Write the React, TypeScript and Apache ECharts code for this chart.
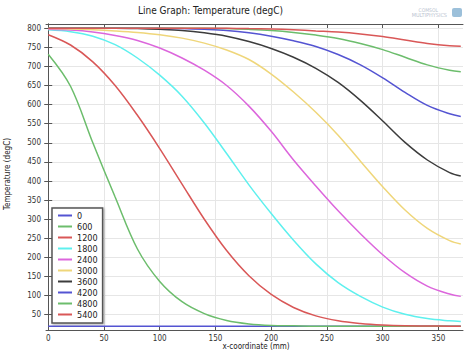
import React, { useEffect, useRef } from "react";
import * as echarts from "echarts";

const xs = [0, 20, 40, 60, 80, 100, 120, 140, 160, 180, 200, 220, 240, 260, 280, 300, 320, 340, 360, 370];
const seriesNames = ["0", "600", "1200", "1800", "2400", "3000", "3600", "4200", "4800", "5400"];
const t0 = [20, 20, 20, 20, 20, 20, 20, 20, 20, 20, 20, 20, 20, 20, 20, 20, 20, 20, 20, 20];
const t600 = [732, 648, 500, 358, 222, 137, 84, 53, 35, 26, 22, 21, 20, 20, 20, 20, 20, 20, 20, 20];
const t1200 = [783, 756, 712, 650, 572, 485, 392, 300, 218, 152, 103, 69, 47, 34, 27, 23, 21, 20.5, 20, 20];
const t1800 = [796, 791, 779, 757, 722, 677, 622, 552, 472, 390, 315, 245, 183, 134, 98, 70, 51, 40, 34, 32];
const t2400 = [797, 795, 790, 781, 768, 748, 722, 690, 650, 596, 530, 455, 387, 322, 262, 207, 160, 125, 104, 98];
const t3000 = [799, 798, 796, 793, 789, 783, 774, 761, 743, 718, 680, 633, 580, 520, 452, 385, 324, 276, 244, 235];
const t3600 = [800, 800, 800, 800, 799, 797, 794, 788, 779, 765, 747, 724, 695, 658, 611, 557, 501, 455, 422, 413];
const t4200 = [800, 800, 800, 800, 800, 800, 799, 797, 794, 788, 779, 767, 752, 731, 704, 670, 632, 598, 576, 569];
const t4800 = [800, 800, 800, 800, 800, 800, 800, 800, 799, 797, 794, 789, 782, 773, 760, 744, 724, 704, 690, 686];
const t5400 = [800, 800, 800, 800, 800, 800, 800, 800, 800, 799, 798, 796, 793, 790, 785, 778, 769, 760, 754, 753];
const seriesValues = [t0, t600, t1200, t1800, t2400, t3000, t3600, t4200, t4800, t5400];
const colors = ["#5454d2", "#6cbd6c", "#d95757", "#5ef0ee", "#dc66dc", "#efd67a", "#3c3c3c", "#5454d2", "#6cbd6c", "#d95757"];
const xTicks = [0, 50, 100, 150, 200, 250, 300, 350];
const yTicks = [50, 100, 150, 200, 250, 300, 350, 400, 450, 500, 550, 600, 650, 700, 750, 800];

const FONT = "'DejaVu Sans Condensed', 'Liberation Sans', sans-serif";

export default function App() {
  const ref = useRef<HTMLDivElement>(null);
  useEffect(() => {
    if (!ref.current) return;
    const chart = echarts.init(ref.current, null, { renderer: "svg" });
    const axisLine = { show: true, lineStyle: { color: "#555", width: 1 } };
    const tick = (vals: number[]) => ({ show: true, inside: true, length: 4, lineStyle: { color: "#555" }, customValues: vals });
    chart.setOption({
      animation: false,
      backgroundColor: "#fff",
      textStyle: { fontFamily: FONT },
      grid: { left: 46, right: 11, top: 24, bottom: 25, containLabel: false },
      xAxis: [
        {
          type: "value", min: -2, max: 372, position: "bottom",
          axisLine, axisTick: tick(xTicks),
          axisLabel: { customValues: xTicks, fontSize: 8, color: "#333", margin: 4, fontFamily: FONT },
          splitLine: { show: true, lineStyle: { color: "#e6e6e6", width: 1 } },
        },
        {
          type: "value", min: -2, max: 372, position: "top",
          axisLine, axisTick: tick(xTicks), axisLabel: { show: false }, splitLine: { show: false },
        },
      ],
      yAxis: [
        {
          type: "value", min: 10, max: 811, position: "left",
          axisLine, axisTick: tick(yTicks),
          axisLabel: { customValues: yTicks, fontSize: 8, color: "#333", margin: 5, fontFamily: FONT },
          splitLine: { show: true, lineStyle: { color: "#e6e6e6", width: 1 } },
        },
        {
          type: "value", min: 10, max: 811, position: "right",
          axisLine, axisTick: tick(yTicks), axisLabel: { show: false }, splitLine: { show: false },
        },
      ],
      legend: {
        data: seriesNames,
        orient: "vertical",
        left: 52,
        top: 208,
        icon: "rect",
        itemWidth: 14,
        itemHeight: 2,
        itemGap: 0,
        padding: [2, 5, 3, 6],
        backgroundColor: "#fff",
        borderColor: "#555",
        borderWidth: 1.5,
        shadowColor: "rgba(0,0,0,0.3)",
        shadowBlur: 2,
        shadowOffsetX: 1,
        shadowOffsetY: 1,
        textStyle: { fontSize: 9, lineHeight: 11, color: "#222", fontFamily: FONT },
      },
      series: seriesNames.map((name, i) => ({
        name,
        type: "line",
        data: xs.map((x, j) => [x, seriesValues[i][j]]),
        smooth: 0.35,
        showSymbol: false,
        symbol: "none",
        color: colors[i],
        lineStyle: { color: colors[i], width: 1.5 },
      })),
      graphic: [
        { type: "text", left: 138, top: 5, style: { text: "Line Graph: Temperature (degC)", fontSize: 10, fontFamily: FONT, fill: "#222" } },
        { type: "text", x: 7, y: 174, rotation: Math.PI / 2, style: { text: "Temperature (degC)", fontSize: 8, fontFamily: FONT, fill: "#222", align: "center", verticalAlign: "middle" } },
        { type: "text", x: 256, y: 346, style: { text: "x-coordinate (mm)", fontSize: 8, fontFamily: FONT, fill: "#222", align: "center", verticalAlign: "middle" } },
        { type: "text", x: 438, y: 10, style: { text: "COMSOL", fontSize: 5, fontFamily: FONT, fill: "#b9c3cf", align: "right", verticalAlign: "middle" } },
        { type: "text", x: 447, y: 15, style: { text: "MULTIPHYSICS", fontSize: 5.5, fontFamily: FONT, fill: "#b9c3cf", align: "right", verticalAlign: "middle" } },
        { type: "rect", shape: { x: 452, y: 8, width: 10, height: 9, r: 2 }, style: { fill: "#9cc0da" } },
      ],
    });
    return () => chart.dispose();
  }, []);
  return <div ref={ref} style={{ width: 474, height: 355, position: "absolute", left: 0, top: 0 }} />;
}
